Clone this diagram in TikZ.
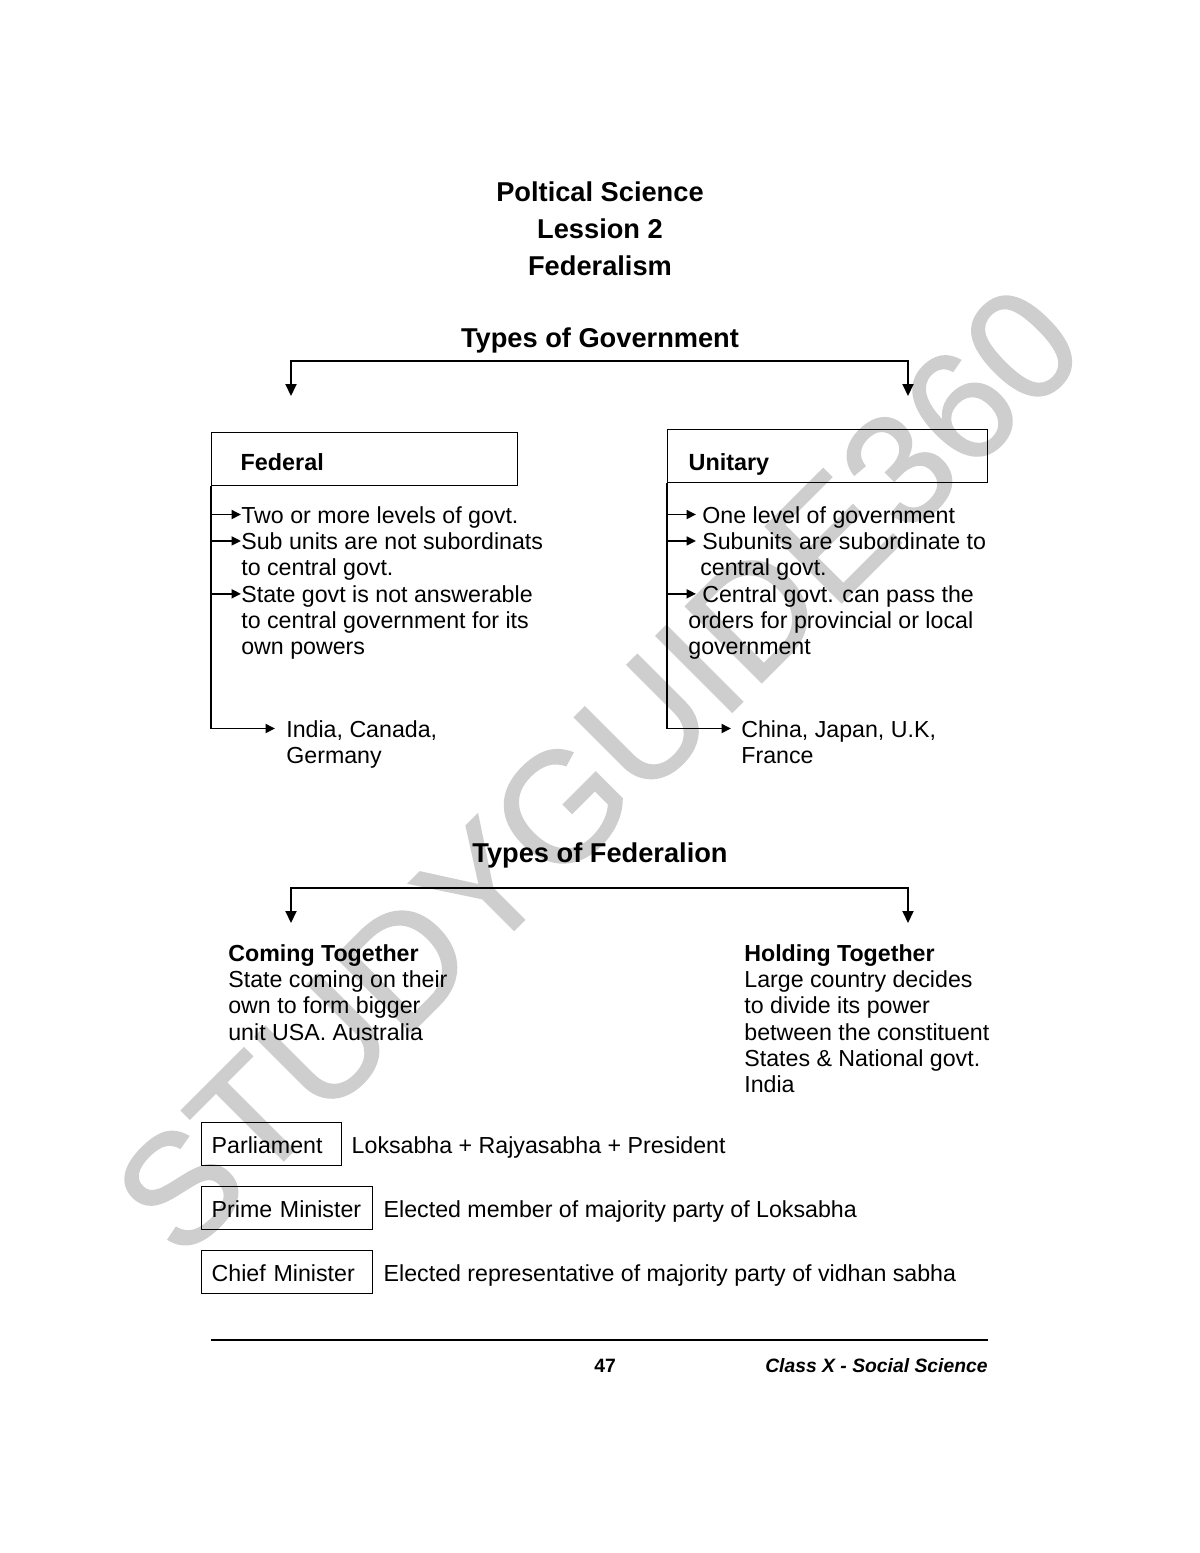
\documentclass[tikz,border=0pt]{standalone}
\usepackage{fontspec}
\setmainfont{Liberation Sans}
\newfontfamily\markfont[FakeBold=1]{Liberation Sans}
\usetikzlibrary{positioning,arrows.meta}
\definecolor{markgray}{RGB}{206,206,206}

\begin{document}
\begin{tikzpicture}[x=0.02cm, y=-0.02cm,
    every node/.style={inner sep=0pt},
    heading/.style={font=\fontsize{15.5}{21}\selectfont\bfseries},
    body/.style={font=\fontsize{13.2}{15}\selectfont, align=left, anchor=north west},
    typebox/.style={draw, line width=0.8pt, anchor=north west, minimum height=1.06cm,
      text depth=0pt, align=left, font=\fontsize{13.3}{15}\selectfont\bfseries},
    rolebox/.style={draw, line width=0.8pt, anchor=north west, minimum height=0.85cm,
      text height=0.39cm, text depth=0pt, inner xsep=0.2cm, align=left, font=\fontsize{13.2}{15}\selectfont},
    wire/.style={line width=1.1pt},
    drop/.style={wire, -{Triangle[length=2.4mm, width=2.2mm]}},
    point/.style={wire, -{Triangle[length=1.9mm, width=1.8mm]}},
  ]
  \useasboundingbox (0,0) rectangle (1200,1553);

  % watermark behind everything
  \node[rotate=45, text=markgray, font=\fontsize{89}{89}\markfont] (mark) at (598,770) {STUDYGUIDE360};

  % title
  \node[heading, align=center] (title) at (600,229) {Poltical Science\\Lession 2\\Federalism};

  % types of government
  \node[heading] (govt) at (600,340) {Types of Government};
  \coordinate (govtbar) at (600,361);
  \coordinate (fedtip) at (291,396);
  \coordinate (unitip) at (908,396);
  \draw[drop] (govtbar) -| (fedtip);
  \draw[drop] (govtbar) -| (unitip);

  \node[typebox, text height=0.47cm, text width=4.96cm, inner xsep=0.58cm] (fed) at (211,432) {Federal};
  \node[typebox, text height=0.59cm, text width=5.56cm, inner xsep=0.42cm] (uni) at (667,429) {Unitary};

  % federal side
  \node[body] (fedpts) at (241,506) {Two or more levels of govt.\\Sub units are not subordinats\\to central govt.\\State govt is not answerable\\to central government for its\\own powers};
  \coordinate (fedp1) at ([yshift=-0.17cm]fedpts.north west);
  \coordinate (fedp2) at ([yshift=-0.699cm]fedpts.north west);
  \coordinate (fedp3) at ([yshift=-1.757cm]fedpts.north west);
  \draw[point] (fed.south west |- fedp1) -- (fedp1);
  \draw[point] (fed.south west |- fedp2) -- (fedp2);
  \draw[point] (fed.south west |- fedp3) -- (fedp3);
  \node[body] (fedeg) at (286,720) {India, Canada,\\Germany};
  \draw[point] (fed.south west) |- ([xshift=-0.22cm, yshift=-0.17cm]fedeg.north west);

  % unitary side
  \node[body] (unipts) at (688,506) {\hspace*{0.28cm}One level of government\\\hspace*{0.28cm}Subunits are subordinate to\\\hspace*{0.24cm}central govt.\\\hspace*{0.28cm}Central govt. can pass the\\orders for provincial or local\\government};
  \coordinate (unip1) at ([xshift=0.16cm, yshift=-0.17cm]unipts.north west);
  \coordinate (unip2) at ([xshift=0.16cm, yshift=-0.699cm]unipts.north west);
  \coordinate (unip3) at ([xshift=0.16cm, yshift=-1.757cm]unipts.north west);
  \draw[point] (uni.south west |- unip1) -- (unip1);
  \draw[point] (uni.south west |- unip2) -- (unip2);
  \draw[point] (uni.south west |- unip3) -- (unip3);
  \node[body] (unieg) at (741,720) {China, Japan, U.K,\\France};
  \draw[point] (uni.south west) |- ([xshift=-0.2cm, yshift=-0.17cm]unieg.north west);

  % types of federation
  \node[heading] (fedn) at (600,855) {Types of Federalion};
  \coordinate (fednbar) at (600,888);
  \coordinate (cometip) at (291,923);
  \coordinate (holdtip) at (908,923);
  \draw[drop] (fednbar) -| (cometip);
  \draw[drop] (fednbar) -| (holdtip);

  \node[body] (coming) at (228,944) {\textbf{Coming Together}\\State coming on their\\own to form bigger\\unit USA. Australia};
  \node[body] (holding) at (744,944) {\textbf{Holding Together}\\Large country decides\\to divide its power\\between the constituent\\States \& National govt.\\India};

  % offices
  \node[rolebox, text width=2.4cm] (parl) at (201,1122) {Parliament};
  \node[body, right=0.18cm of parl.base east, anchor=base west] (parldesc) {Loksabha + Rajyasabha + President};
  \node[rolebox, text width=3.02cm] (pm) at (201,1186) {\mbox{Prime Minister}};
  \node[body, right=0.2cm of pm.base east, anchor=base west] (pmdesc) {Elected member of majority party of Loksabha};
  \node[rolebox, text width=3.02cm] (cm) at (201,1250) {Chief Minister};
  \node[body, right=0.2cm of cm.base east, anchor=base west] (cmdesc) {Elected representative of majority party of vidhan sabha};

  % footer
  \coordinate (rulel) at (211,1340);
  \coordinate (ruler) at (988,1340);
  \draw[line width=1.6pt] (rulel) -- (ruler);
  \node[font=\fontsize{11}{13}\selectfont\bfseries] (page) at (605,1366) {47};
  \node[font=\fontsize{11}{13}\selectfont\bfseries\itshape, anchor=east] (klass) at (988,1366) {Class X - Social Science};
\end{tikzpicture}
\end{document}
